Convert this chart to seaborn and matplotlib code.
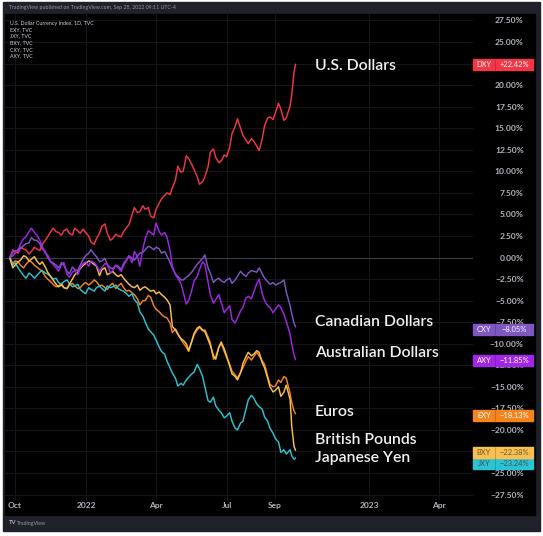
import matplotlib
matplotlib.use("Agg")
import numpy as np
import pandas as pd
import seaborn as sns
import matplotlib.pyplot as plt
from matplotlib.patches import Rectangle
from matplotlib.transforms import blended_transform_factory

# ---------------- data (percent change since start) ----------------
fri_dates = list(pd.date_range("2021-09-24", periods=52, freq="7D"))
tue_dates = list(pd.date_range("2021-09-28", periods=51, freq="7D"))
end_dates = list(pd.to_datetime(["2022-09-21", "2022-09-23", "2022-09-26", "2022-09-28"]))

DXY_fri = [0.0, 0.8, 1.2, 0.9, 0.7, 1.0, 1.5, 2.4, 3.4, 2.9, 3.1, 2.8, 3.4, 2.8, 2.9, 1.8,
           2.2, 3.6, 2.8, 2.2, 2.5, 3.0, 3.8, 5.8, 5.3, 5.6, 4.8, 5.6, 6.8, 7.5, 8.1, 10.6,
           10.0, 11.5, 10.2, 8.5, 9.4, 12.2, 11.6, 11.2, 11.7, 14.4, 16.1, 14.2, 13.2, 13.5,
           12.4, 15.3, 16.3, 16.8, 17.2, 16.2]
DXY_tue = [0.6, 0.5, 1.0, 0.4, 1.2, 0.8, 2.0, 3.0, 3.0, 2.6, 3.3, 2.6, 3.1, 3.3, 2.5, 1.5,
           2.8, 3.9, 2.0, 2.7, 2.4, 3.5, 5.0, 5.2, 6.0, 5.8, 4.6, 6.3, 7.2, 7.3, 9.0, 9.9,
           11.8, 10.8, 9.4, 8.8, 10.5, 12.6, 11.0, 11.9, 12.8, 15.2, 15.0, 13.6, 13.8, 12.9,
           13.8, 16.2, 16.0, 17.9, 15.9]
DXY_end = [17.6, 18.8, 21.5, 22.42]

EXY_fri = [0.0, -0.4, -0.9, -0.8, -0.5, -1.1, -1.6, -2.5, -3.1, -3.3, -3.5, -3.2, -3.3, -3.5,
           -2.9, -3.0, -2.8, -3.2, -3.7, -3.0, -3.3, -3.5, -3.8, -4.3, -5.5, -5.0, -4.6, -6.0,
           -6.6, -7.0, -8.7, -8.8, -9.9, -10.9, -9.0, -8.1, -8.4, -9.9, -11.5, -10.0, -11.6,
           -13.2, -14.0, -12.8, -11.5, -11.5, -11.4, -12.4, -14.7, -14.9, -14.5, -14.0]
EXY_tue = [-0.7, -0.5, -1.2, -0.4, -0.9, -1.4, -2.2, -2.8, -3.4, -3.0, -3.6, -3.0, -3.6, -3.1,
           -3.2, -2.6, -3.3, -3.5, -3.2, -3.6, -3.0, -3.9, -4.1, -4.8, -5.0, -4.4, -5.6, -6.3,
           -6.9, -7.6, -8.3, -9.5, -10.4, -9.8, -8.4, -8.5, -9.2, -11.8, -10.4, -10.9, -12.4,
           -13.6, -13.3, -12.0, -11.9, -11.0, -12.0, -13.8, -15.0, -14.2, -13.8]
EXY_end = [-15.8, -16.8, -17.8, -18.13]

JXY_fri = [0.0, -0.6, -1.6, -2.4, -2.0, -2.1, -1.5, -1.9, -2.5, -2.9, -2.8, -3.0, -3.3, -3.7,
           -4.2, -3.7, -3.5, -3.6, -3.3, -3.4, -3.6, -3.9, -4.5, -4.9, -6.3, -7.5, -8.6, -9.6,
           -10.9, -12.0, -13.4, -14.9, -14.8, -13.9, -13.3, -12.9, -15.0, -16.8, -17.2, -18.0,
           -18.4, -19.0, -20.0, -19.0, -16.5, -16.3, -17.3, -18.5, -19.8, -21.0, -22.6, -22.8]
JXY_tue = [-0.9, -1.2, -2.1, -1.8, -2.4, -1.7, -1.8, -2.2, -2.4, -3.1, -2.6, -3.4, -3.1, -4.0,
           -3.5, -3.9, -3.3, -3.9, -3.5, -3.2, -3.8, -4.2, -4.2, -5.3, -6.8, -8.3, -9.0, -10.4,
           -11.2, -12.8, -14.0, -14.6, -14.2, -13.5, -12.4, -13.8, -16.6, -16.2, -17.7, -18.6,
           -18.0, -19.8, -19.2, -17.6, -16.0, -17.0, -17.6, -19.0, -20.4, -21.4, -22.3]
JXY_end = [-22.3, -23.0, -23.4, -23.24]

BXY_fri = [0.0, -0.9, -0.3, 0.1, -0.2, -0.4, -0.5, -1.7, -2.6, -3.4, -3.5, -3.1, -2.0, -1.3,
           -0.7, -0.5, -1.0, -1.4, -2.0, -1.6, -2.2, -2.4, -3.1, -3.5, -3.8, -3.4, -3.9, -4.2,
           -4.3, -4.9, -8.0, -8.9, -9.6, -10.8, -8.8, -8.0, -8.6, -10.2, -11.8, -9.8, -11.4,
           -13.5, -14.2, -12.3, -11.0, -11.2, -11.0, -12.8, -15.0, -15.4, -16.1, -14.8]
BXY_tue = [-1.2, -0.5, 0.2, -0.4, 0.1, -0.8, -1.1, -2.2, -3.1, -3.2, -3.6, -2.5, -1.7, -0.9,
           -0.4, -0.8, -2.1, -1.2, -1.8, -2.0, -2.0, -2.8, -3.4, -3.2, -3.5, -3.7, -3.8, -4.0,
           -4.6, -5.5, -8.4, -9.4, -10.0, -9.7, -8.2, -8.4, -9.5, -11.4, -10.4, -10.6, -12.6,
           -13.8, -13.4, -11.5, -11.4, -10.8, -12.2, -14.0, -15.6, -15.0, -15.6]
BXY_end = [-16.5, -19.5, -21.9, -22.38]

CXY_fri = [0.0, 0.5, 1.0, 1.6, 2.3, 2.0, 1.0, 0.0, -0.6, -1.2, -0.9, -1.9, -1.4, -0.9, 0.2,
           0.9, 0.1, -0.4, -0.8, -1.3, -1.0, -0.7, 0.2, -0.3, 0.5, 0.9, 1.2, 1.2, 0.5, 0.2,
           -1.2, -2.2, -2.6, -2.1, -1.3, -0.5, 0.3, -1.8, -2.6, -2.7, -2.6, -3.0, -2.2, -1.9,
           -1.8, -1.6, -1.2, -2.4, -3.1, -3.2, -2.9, -4.0]
CXY_tue = [0.2, 1.0, 1.4, 1.7, 2.0, 1.6, 0.7, -0.5, -0.9, -0.6, -1.6, -1.1, -1.5, -0.2, 0.5,
           0.4, -0.5, -0.1, -1.2, -0.9, -1.4, -0.2, -0.1, 0.2, 0.6, 1.3, 0.9, 1.0, 0.7, -0.6,
           -1.9, -2.6, -2.3, -1.7, -0.8, -0.1, -1.2, -2.9, -2.4, -2.9, -2.4, -2.6, -1.6, -2.2,
           -1.5, -1.7, -1.9, -2.8, -2.9, -3.0, -2.6]
CXY_end = [-5.6, -6.5, -7.6, -8.05]

AXY_fri = [0.0, 0.6, 1.6, 2.4, 3.4, 2.6, 1.3, 0.3, -0.8, -1.6, -0.6, -2.3, -1.5, -1.2, -0.5,
           -0.4, -0.9, -1.2, -0.8, -1.5, -1.2, -0.9, 0.2, 0.7, -1.0, 2.2, 2.9, 4.0, 2.6, 2.4,
           -1.0, -2.4, -4.0, -5.0, -2.7, -1.4, -0.8, -4.3, -4.9, -5.2, -6.0, -7.2, -7.0, -5.8,
           -4.5, -4.0, -2.5, -5.0, -5.8, -6.0, -5.8, -7.4]
AXY_tue = [0.9, 0.8, 2.2, 3.0, 2.9, 2.0, 0.5, -0.5, -1.2, -0.8, -1.9, -1.7, -2.0, -0.7, -1.0,
           -0.6, -1.6, -0.7, -1.8, -0.9, -1.6, -0.3, -0.6, 0.1, 1.0, 3.1, 2.6, 3.0, 2.9, 0.8,
           -2.0, -3.0, -5.4, -3.8, -2.2, -0.5, -2.8, -5.3, -4.3, -6.4, -5.6, -7.6, -6.2, -4.7,
           -4.8, -3.0, -4.2, -5.6, -6.4, -5.5, -6.6]
AXY_end = [-8.9, -10.0, -11.3, -11.85]

symbols = ["DXY", "EXY", "JXY", "BXY", "CXY", "AXY"]
legend_names = ["U.S. Dollar Currency Index, 1D, TVC", "EXY, TVC", "JXY, TVC",
                "BXY, TVC", "CXY, TVC", "AXY, TVC"]
last_labels = ["+22.42%", "\u221218.13%", "\u221223.24%", "\u221222.38%", "\u22128.05%", "\u221211.85%"]
last_values = [22.42, -18.13, -23.24, -22.38, -8.05, -11.85]
currency_names = ["U.S. Dollars", "Euros", "Japanese Yen", "British Pounds",
                  "Canadian Dollars", "Australian Dollars"]
tick_dates = ["2021-10-01", "2022-01-01", "2022-04-01", "2022-07-01", "2022-09-01",
              "2023-01-01", "2023-04-01"]
tick_labels = ["Oct", "2022", "Apr", "Jul", "Sep", "2023", "Apr"]
y_ticks = [x / 100 for x in range(-2750, 2751, 250)]
hidden_ticks = [22.5, -22.5]  # covered by price boxes in the original

raw = {"DXY": (DXY_fri, DXY_tue, DXY_end), "EXY": (EXY_fri, EXY_tue, EXY_end),
       "JXY": (JXY_fri, JXY_tue, JXY_end), "BXY": (BXY_fri, BXY_tue, BXY_end),
       "CXY": (CXY_fri, CXY_tue, CXY_end), "AXY": (AXY_fri, AXY_tue, AXY_end)}
frames = []
for sym, (f, t, e) in raw.items():
    d = pd.DataFrame({"date": fri_dates + tue_dates + end_dates, "value": f + t + e})
    d["symbol"] = sym
    frames.append(d.sort_values("date"))
df = pd.concat(frames, ignore_index=True)

# ---------------- style ----------------
palette = {"DXY": "#f23645", "EXY": "#f5841f", "JXY": "#2bc3d3", "BXY": "#f9c04f",
           "CXY": "#7e57c2", "AXY": "#a126e6"}
box_text = {"DXY": "white", "EXY": "white", "JXY": "#3d5358", "BXY": "#6b5a35",
            "CXY": "white", "AXY": "white"}
box_shift_px = {"DXY": 0, "EXY": 2, "JXY": 6, "BXY": 2, "CXY": 2.5, "AXY": 0.5}
name_y = {"DXY": 22.2, "EXY": -17.9, "JXY": -23.3, "BXY": -21.2, "CXY": -7.5, "AXY": -11.1}

sns.set_theme(style="dark")
plt.rcParams["font.family"] = ["Lato", "DejaVu Sans"]

W, H = 543, 536
fig = plt.figure(figsize=(W / 100, H / 100), dpi=100, facecolor="white")


def frect(x0, y0, x1, y1):
    return [x0 / W, 1 - y1 / H, (x1 - x0) / W, (y1 - y0) / H]


r = frect(3, 2, 540, 531)
fig.add_artist(Rectangle((r[0], r[1]), r[2], r[3], transform=fig.transFigure,
                         color="#1f222b", zorder=0))
r = frect(5, 14, 535, 515)
fig.add_artist(Rectangle((r[0], r[1]), r[2], r[3], transform=fig.transFigure,
                         color="#000000", zorder=0))
fig.text(9 / W, 1 - 8 / H, "TradingView published on TradingView.com, Sep 28, 2022 09:11 UTC-4",
         fontsize=3.8, color="#9598a1", va="center", ha="left")
fig.text(9 / W, 1 - 523 / H, "TV", fontsize=4.2, color="#b2b5be", va="center",
         ha="left", fontweight="bold")
fig.text(17 / W, 1 - 523 / H, "TradingView", fontsize=3.8, color="#9598a1", va="center", ha="left")

ax = fig.add_axes(frect(5, 14, 473, 500))
ax.set_facecolor("black")

sns.lineplot(data=df, x="date", y="value", hue="symbol", hue_order=symbols,
             palette=palette, linewidth=1.05, legend=False, ax=ax, zorder=3)

ax.set_xlim(pd.Timestamp("2021-09-18"), pd.Timestamp("2023-05-15"))
ax.set_ylim(-28.13, 28.25)
ax.set_xlabel("")
ax.set_ylabel("")
for s in ax.spines.values():
    s.set_visible(False)

ax.set_xticks(pd.to_datetime(tick_dates))
ax.set_xticklabels(tick_labels)
ax.set_yticks(y_ticks)
ax.set_yticklabels(["" if v in hidden_ticks else
                    ("\u2212" if v < 0 else "") + f"{abs(v):.2f}%" for v in y_ticks])
ax.yaxis.tick_right()
ax.tick_params(axis="x", length=0, pad=1.5, labelsize=6.0, labelcolor="#b2b5be")
ax.tick_params(axis="y", length=0, pad=36.5, labelsize=6.1, labelcolor="#b2b5be")
for t in ax.get_yticklabels():
    t.set_horizontalalignment("right")
for t in ax.get_xticklabels() + ax.get_yticklabels():
    t.set_fontweight("bold")
ax.grid(True, color="#15171c", linewidth=0.7)
ax.axhline(0, color="#3a3d45", linewidth=0.8, zorder=2)

# legend lines at top-left
for i, txt in enumerate(legend_names):
    fig.text(10 / W, 1 - (23 + 6.6 * i) / H, txt, fontsize=3.8, color="#d1d4dc",
             va="center", ha="left")

# price boxes on the right scale
tr = blended_transform_factory(ax.transAxes, ax.transData)
ppd = 486 / (28.25 + 28.13)  # pixels per data unit
bh = 11 / ppd
x0, x1, x2 = 1.0, (495 - 5) / 468, (533 - 5) / 468
for sym, lab, val in zip(symbols, last_labels, last_values):
    yc = val - box_shift_px[sym] / ppd
    ax.add_patch(Rectangle((x0, yc - bh / 2), x2 - x0, bh, transform=tr,
                           color=palette[sym], clip_on=False, zorder=10))
    ax.plot([x1, x1], [yc - bh / 2, yc + bh / 2], transform=tr, color="black",
            alpha=0.25, lw=0.5, clip_on=False, zorder=11)
    ax.text((x0 + x1) / 2, yc, sym, transform=tr, ha="center", va="center",
            fontsize=5.4, color=box_text[sym], zorder=12, clip_on=False)
    ax.text((x1 + x2) / 2, yc, lab, transform=tr, ha="center", va="center",
            fontsize=5.4, color=box_text[sym], zorder=12, clip_on=False)

# currency names
for sym, nm in zip(symbols, currency_names):
    ax.text((315 - 5) / 468, name_y[sym], nm, transform=tr, ha="left", va="center",
            fontsize=11.3, color="#f0f0f0", fontweight="semibold", zorder=12)

fig.savefig("out.png", dpi=100, facecolor="white")
